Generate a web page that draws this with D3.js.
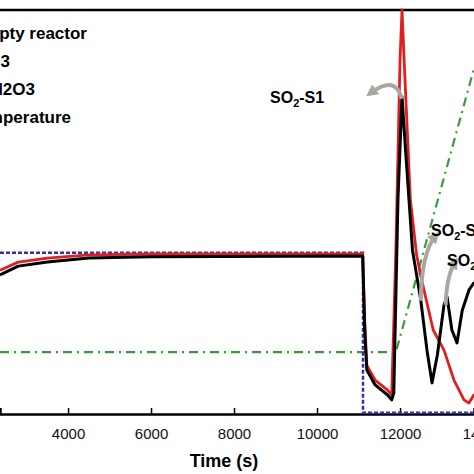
<!DOCTYPE html>
<html><head><meta charset="utf-8">
<script src="https://cdn.jsdelivr.net/npm/d3@7"></script>
<style>body{margin:0;background:#fff}text{font-family:"Liberation Sans",Arial,sans-serif}</style>
</head><body><svg id="c" width="474" height="474"></svg>
<script>
// data (signal in arbitrary units)
const xTicks = [4000, 6000, 8000, 10000, 12000, 14000];
const legendLabels = ["Empty reactor", "Al2O3", "CuO/Al2O3", "Temperature"];
const blue = [[2360, 39.9], [11108, 39.9], [11108, 0.3], [13790, 0.3]];
const red = [[2360, 35.6], [2800, 37.6], [3500, 38.6], [4500, 39.4], [6000, 39.6], [11100, 39.6],
  [11150, 23], [11200, 12], [11400, 8.4], [11700, 5.9], [11800, 4.7], [11900, 40.6], [12000, 87.6],
  [12048, 100], [12120, 82.7], [12250, 53], [12400, 39.4], [12506, 33.9], [12800, 20.8], [13060, 15.8],
  [13300, 8.4], [13542, 3.5], [13660, 2.7], [13790, 4.9]];
const black = [[2360, 34.4], [2800, 36.6], [3500, 37.6], [4500, 38.6], [6000, 38.9], [11100, 39.1],
  [11150, 20.5], [11200, 10.9], [11400, 7.2], [11700, 4.7], [11800, 3.5], [11850, 5.2], [11950, 53],
  [12048, 78.5], [12150, 62.9], [12300, 40.6], [12500, 28.2], [12650, 15.8], [12771, 7.7], [12900, 14.6],
  [13060, 27], [13133, 29], [13250, 20.8], [13373, 17.6], [13500, 25.7], [13663, 30.7], [13790, 32.6]];
const temp = [[2360, 15.3], [11900, 15.3], [13740, 83.9], [13790, 85.8]];

const svg = d3.select("#c");
const x = d3.scaleLinear().domain([2360, 13783]).range([0, 474]);
const y = d3.scaleLinear().domain([0, 100]).range([414, 10]);
const line = d3.line().x(d => x(d[0])).y(d => y(d[1]));

// frame
svg.append("line").attr("x1", 0).attr("x2", 474).attr("y1", 10).attr("y2", 10)
  .attr("stroke", "#000").attr("stroke-width", 2.5);
const ax = svg.append("g").attr("transform", "translate(0,414)")
  .call(d3.axisBottom(x).tickValues(xTicks).tickSize(-6).tickPadding(14).tickFormat(d3.format("d")));
ax.select(".domain").attr("stroke-width", 2.5);
ax.selectAll(".tick line").attr("stroke-width", 1.5);
ax.selectAll("text").attr("font-size", 15).attr("fill", "#111");
svg.append("text").attr("x", 224).attr("y", 467).attr("text-anchor", "middle")
  .attr("font-size", 18).attr("font-weight", "bold").text("Time (s)");

svg.append("path").datum(temp).attr("d", line).attr("fill", "none")
  .attr("stroke", "#3a9a3a").attr("stroke-width", 2.2).attr("stroke-dasharray", "9,5,2,5");
svg.append("path").datum(blue).attr("d", line).attr("fill", "none")
  .attr("stroke", "#3030b0").attr("stroke-width", 2.5).attr("stroke-dasharray", "4,2");
svg.append("path").datum(red).attr("d", line).attr("fill", "none")
  .attr("stroke", "#e02020").attr("stroke-width", 2.8).attr("stroke-linejoin", "round");
svg.append("path").datum(black).attr("d", line).attr("fill", "none")
  .attr("stroke", "#000").attr("stroke-width", 3).attr("stroke-linejoin", "round");

// legend text (cut at left edge)
const legEnds = [87, 10, 35, 71];
legendLabels.forEach((t, i) => svg.append("text").attr("x", legEnds[i]).attr("y", 39 + i * 28)
  .attr("text-anchor", "end").attr("font-size", 17).attr("font-weight", "bold").text(t));

// annotations
svg.append("defs").append("marker").attr("id", "ah").attr("viewBox", "0 0 10 10")
  .attr("refX", 5).attr("refY", 5).attr("markerWidth", 3).attr("markerHeight", 3).attr("orient", "auto")
  .append("path").attr("d", "M0,0L10,5L0,10z").attr("fill", "#a8a8a0");
function arrow(p0, c, p1) {
  svg.append("path").attr("d", `M${p0}Q${c} ${p1}`).attr("fill", "none")
    .attr("stroke", "#a8a8a0").attr("stroke-width", 4).attr("marker-end", "url(#ah)");
}
arrow([x(12040), y(78)], [x(11900), y(84)], [x(11300), y(79.5)]);
arrow([x(12500), y(28)], [x(12520), y(40)], [x(12850), y(44)]);
arrow([x(13100), y(27)], [x(13120), y(34)], [x(13320), y(37.5)]);
function label(px, py, s) {
  const t = svg.append("text").attr("x", px).attr("y", py).attr("font-size", 16).attr("font-weight", "bold");
  t.append("tspan").text("SO");
  t.append("tspan").attr("font-size", 11).attr("dy", 4).text("2");
  t.append("tspan").attr("dy", -4).text(s);
}
label(270, 103, "-S1");
label(431, 236, "-S2");
label(447, 266, "-S3");
</script></body></html>
